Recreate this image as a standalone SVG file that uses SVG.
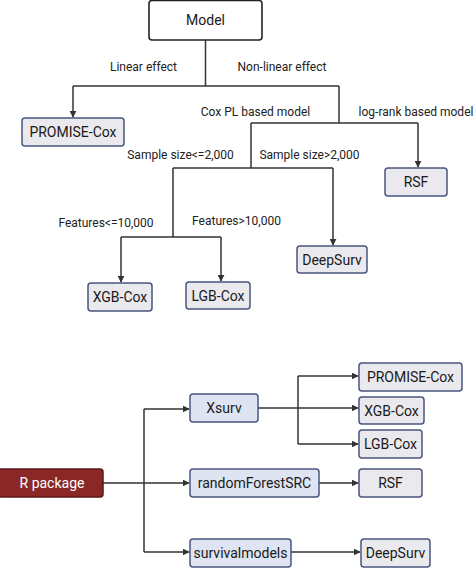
<svg xmlns="http://www.w3.org/2000/svg" width="474" height="568" viewBox="0 0 474 568">
<style>
  .box{fill:#e9e9ee;stroke:#4b5580;stroke-width:1.5}
  .bbox{fill:#dee4f2;stroke:#4b5580;stroke-width:1.5}
  .rbox{fill:#8a2828;stroke:#5e1717;stroke-width:1.5}
  .mbox{fill:#ffffff;stroke:#222;stroke-width:1.6}
  .t{font-family:Roboto,"Liberation Sans",sans-serif;font-size:14px;fill:#1a1a1a;text-anchor:middle;dominant-baseline:central}
  .tw{fill:#ffffff}
  .lbl{font-family:Roboto,"Liberation Sans",sans-serif;font-size:12px;fill:#222;text-anchor:middle;dominant-baseline:central}
  .c{fill:none;stroke:#333;stroke-width:1.5}
  .ca{fill:none;stroke:#333;stroke-width:1.5;marker-end:url(#ah)}
</style>
<defs>
  <marker id="ah" viewBox="0 0 10 10" refX="9" refY="5" markerWidth="7" markerHeight="7" markerUnits="userSpaceOnUse" orient="auto">
    <path d="M0,0 L10,5 L0,10 z" fill="#333"/>
  </marker>
</defs>
<rect width="474" height="568" fill="#ffffff"/>
<g id="connectors">
  <path class="c" d="M205.5,40 V86"/>
  <path class="c" d="M73,86 H339"/>
  <path class="ca" d="M73,86 V117"/>
  <path class="c" d="M339,86 V123"/>
  <path class="c" d="M251,123 H418"/>
  <path class="ca" d="M418,123 V167"/>
  <path class="c" d="M251,123 V168"/>
  <path class="c" d="M173,168 H333"/>
  <path class="ca" d="M333,168 V245"/>
  <path class="c" d="M173,168 V237"/>
  <path class="c" d="M121,237 H221"/>
  <path class="ca" d="M121,237 V282"/>
  <path class="ca" d="M221,237 V281"/>
  <path class="c" d="M103,483 H144"/>
  <path class="ca" d="M144,483 H189"/>
  <path class="c" d="M144,409 V552"/>
  <path class="ca" d="M144,409 H189"/>
  <path class="ca" d="M144,552 H189"/>
  <path class="ca" d="M258,408 H358"/>
  <path class="c" d="M298,376 V444"/>
  <path class="ca" d="M298,376 H358"/>
  <path class="ca" d="M298,444 H358"/>
  <path class="ca" d="M319,483 H358"/>
  <path class="ca" d="M291,552 H360"/>
</g>
<g id="labels">
  <text class="lbl" x="143.5" y="67">Linear effect</text>
  <text class="lbl" x="282" y="67">Non-linear effect</text>
  <text class="lbl" x="255.5" y="112">Cox PL based model</text>
  <text class="lbl" x="416" y="112">log-rank based model</text>
  <text class="lbl" x="180.5" y="155">Sample size&lt;=2,000</text>
  <text class="lbl" x="309.5" y="155">Sample size&gt;2,000</text>
  <text class="lbl" x="106" y="223">Features&lt;=10,000</text>
  <text class="lbl" x="236.5" y="221">Features&gt;10,000</text>
</g>
<g id="node-model"><rect class="mbox" x="149" y="0.5" width="113" height="39.5" rx="3"/><text class="t" x="205.5" y="20">Model</text></g>
<g id="node-promise-top"><rect class="box" x="22" y="118" width="102" height="28" rx="3"/><text class="t" x="73" y="132">PROMISE-Cox</text></g>
<g id="node-rsf-top"><rect class="box" x="385" y="168" width="62" height="28" rx="3"/><text class="t" x="416" y="182">RSF</text></g>
<g id="node-deepsurv-top"><rect class="box" x="297" y="246" width="70" height="27" rx="3"/><text class="t" x="332" y="259.5">DeepSurv</text></g>
<g id="node-xgb-top"><rect class="box" x="88" y="283" width="64" height="28" rx="3"/><text class="t" x="120" y="297">XGB-Cox</text></g>
<g id="node-lgb-top"><rect class="box" x="186" y="282" width="64" height="27" rx="3"/><text class="t" x="218" y="295.5">LGB-Cox</text></g>
<g id="node-rpackage"><rect class="rbox" x="-2" y="469" width="105" height="28" rx="3"/><text class="t tw" x="52" y="483">R package</text></g>
<g id="node-xsurv"><rect class="bbox" x="190" y="394" width="68" height="28" rx="3"/><text class="t" x="224" y="408">Xsurv</text></g>
<g id="node-rfsrc"><rect class="bbox" x="190" y="469" width="129" height="28" rx="3"/><text class="t" x="254.5" y="483">randomForestSRC</text></g>
<g id="node-survivalmodels"><rect class="bbox" x="190" y="539" width="101" height="28" rx="3"/><text class="t" x="240.5" y="553">survivalmodels</text></g>
<g id="node-promise-bottom"><rect class="box" x="359" y="363" width="103" height="28" rx="3"/><text class="t" x="410.5" y="377">PROMISE-Cox</text></g>
<g id="node-xgb-bottom"><rect class="box" x="359" y="397" width="65" height="27" rx="3"/><text class="t" x="391.5" y="410.5">XGB-Cox</text></g>
<g id="node-lgb-bottom"><rect class="box" x="359" y="430" width="63" height="28" rx="3"/><text class="t" x="390.5" y="444">LGB-Cox</text></g>
<g id="node-rsf-bottom"><rect class="box" x="359" y="469" width="63" height="28" rx="3"/><text class="t" x="390.5" y="483">RSF</text></g>
<g id="node-deepsurv-bottom"><rect class="box" x="361" y="539" width="69" height="28" rx="3"/><text class="t" x="395.5" y="553">DeepSurv</text></g>
</svg>
